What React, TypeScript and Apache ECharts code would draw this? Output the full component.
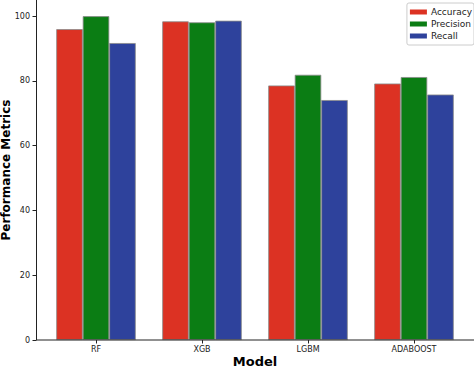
import React, { useEffect, useRef } from "react";
import * as echarts from "echarts";

const categories = ["RF", "XGB", "LGBM", "ADABOOST"];
const accuracy = [96.0, 98.4, 78.6, 79.2];
const precision = [100.0, 98.1, 81.9, 81.2];
const recall = [91.7, 98.6, 74.1, 75.8];
const seriesNames = ["Accuracy", "Precision", "Recall"];
const yTicks = [0, 20, 40, 60, 80, 100];
const xTitle = "Model";
const yTitle = "Performance Metrics";

const colors = ["#dc3223", "#0b7d14", "#2e429c"];
const FONT = "DejaVu Sans";

export default function App() {
  const ref = useRef<HTMLDivElement>(null);
  useEffect(() => {
    if (!ref.current) return;
    const chart = echarts.init(ref.current, null, { renderer: "svg" });
    const data = [accuracy, precision, recall];
    chart.setOption({
      animation: false,
      backgroundColor: "#ffffff",
      textStyle: { fontFamily: FONT },
      grid: { left: 43, right: 7, top: 0, bottom: 27, containLabel: false, outerBoundsMode: "none" },
      legend: {
        orient: "vertical",
        right: 0,
        top: 3,
        data: seriesNames,
        itemWidth: 17,
        itemHeight: 5,
        itemGap: 2,
        padding: [4, 2, 4, 3],
        borderColor: "#cccccc",
        borderWidth: 1,
        borderRadius: 2,
        backgroundColor: "#ffffff",
        icon: "rect",
        itemStyle: { borderWidth: 0 },
        textStyle: { fontFamily: FONT, fontSize: 9, color: "#222", lineHeight: 10, padding: [0, 0, 0, -1] },
      },
      xAxis: {
        type: "category",
        data: categories,
        axisLine: { show: false },
        axisTick: { show: true, alignWithLabel: true, length: 3.5, lineStyle: { color: "#222" } },
        axisLabel: { fontFamily: FONT, fontSize: 8, color: "#222", margin: 5 },
        splitLine: { show: false },
      },
      yAxis: {
        type: "value",
        min: 0,
        max: 105,
        interval: 20,
        offset: 7,
        axisLine: { show: true, lineStyle: { color: "#222", width: 1 } },
        axisTick: { show: true, length: 3.5, lineStyle: { color: "#222" } },
        axisLabel: {
          fontFamily: FONT,
          fontSize: 8,
          color: "#222",
          margin: 6,
          showMaxLabel: false,
          formatter: (v: number) => (yTicks.includes(v) ? String(v) : ""),
        },
        splitLine: { show: false },
      },
      graphic: [
        {
          type: "line",
          shape: { x1: 36, y1: 340, x2: 474, y2: 340 },
          style: { stroke: "#222", lineWidth: 1 },
          z: 10,
        },
        {
          type: "text",
          x: 255,
          y: 361,
          style: {
            text: xTitle,
            fontFamily: FONT,
            fontSize: 13,
            fontWeight: "bold",
            fill: "#000",
            align: "center",
            verticalAlign: "middle",
          },
        },
        {
          type: "text",
          x: 6,
          y: 170,
          rotation: Math.PI / 2,
          style: {
            text: yTitle,
            fontFamily: FONT,
            fontSize: 12,
            fontWeight: "bold",
            fill: "#000",
            align: "center",
            verticalAlign: "middle",
          },
        },
      ],
      series: seriesNames.map((name, i) => ({
        name,
        type: "bar",
        data: data[i],
        barWidth: 26.5,
        barGap: "0%",
        itemStyle: { color: colors[i], borderColor: "#8a8a8a", borderWidth: 0.8 },
      })),
    });
    return () => chart.dispose();
  }, []);
  return <div ref={ref} style={{ width: 474, height: 367, position: "absolute", left: 0, top: 0 }} />;
}
